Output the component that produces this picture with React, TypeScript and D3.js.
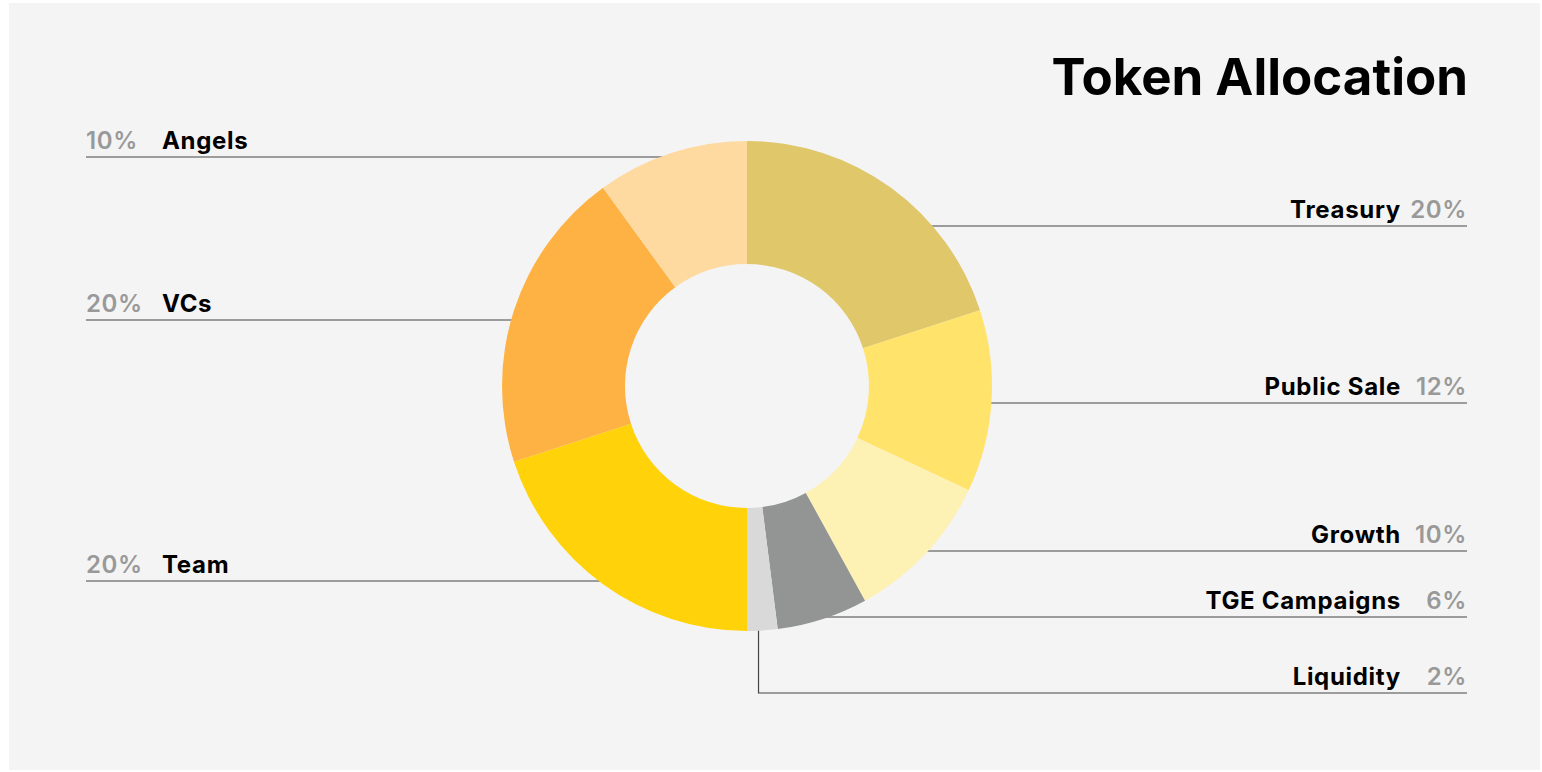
import React from "react";
import * as d3 from "d3";

const categories = ["Treasury", "Public Sale", "Growth", "TGE Campaigns", "Liquidity", "Team", "VCs", "Angels"];
const values = [20, 12, 10, 6, 2, 20, 20, 10];
const colors = ["#dfc76a", "#ffe36b", "#fef1b4", "#929594", "#d9d9d9", "#ffd20a", "#fdb243", "#fed9a0"];

// label row y (layout only)
const rowY: Record<string, number> = {
  Treasury: 226,
  "Public Sale": 403,
  Growth: 551,
  "TGE Campaigns": 617,
  Liquidity: 693,
  Team: 581,
  VCs: 320,
  Angels: 157,
};

const W = 1542;
const H = 772;
const cx = 747;
const cy = 386;
const R = 245;
const r = 122;
const leftX = 86;
const rightX = 1467;
const FONT = "Inter, 'Noto Sans', sans-serif";

export default function App() {
  const pie = d3.pie<number>().value((d) => d).sort(null);
  const arcs = pie(values);
  const arcGen = d3.arc<d3.PieArcDatum<number>>().innerRadius(r).outerRadius(R);

  const leaders = arcs.map((a, i) => {
    const name = categories[i];
    const y = rowY[name];
    const mid = (a.startAngle + a.endAngle) / 2;
    const isRight = mid < Math.PI || name === "Liquidity";
    const dy = y - cy;
    let path: string;
    if (Math.abs(dy) < R) {
      const dx = Math.sqrt(R * R - dy * dy) - 12;
      if (isRight) path = `M${cx + dx},${y}H${rightX}`;
      else path = `M${leftX},${y}H${cx - dx}`;
    } else {
      const [mx] = arcGen.centroid(a);
      const my = cy - R * Math.cos(mid);
      path = `M${cx + mx},${my - 6}V${y}H${rightX}`;
    }
    return { name, y, isRight, path, v: values[i] };
  });

  return (
    <svg width={W} height={H} style={{ display: "block", position: "absolute", left: 0, top: 0 }}>
      <rect x={9} y={3} width={1531} height={767} fill="#f4f4f4" />
      {leaders.map((l) => (
        <path key={l.name + "l"} d={l.path} fill="none" stroke="#444" strokeWidth={1.2} />
      ))}
      <g transform={`translate(${cx},${cy})`}>
        {arcs.map((a, i) => (
          <path key={categories[i]} d={arcGen(a) || ""} fill={colors[i]} />
        ))}
      </g>
      {leaders.map((l) =>
        l.isRight ? (
          <g key={l.name}>
            <text x={1401} y={l.y - 8} textAnchor="end" fontFamily={FONT} fontWeight={700} fontSize={24} letterSpacing={0.7} fill="#000">
              {l.name}
            </text>
            <text x={rightX} y={l.y - 8} textAnchor="end" fontFamily={FONT} fontWeight={600} fontSize={24} letterSpacing={0.6} fill="#999">
              {l.v}%
            </text>
          </g>
        ) : (
          <g key={l.name}>
            <text x={leftX} y={l.y - 8} fontFamily={FONT} fontWeight={600} fontSize={24} letterSpacing={0.6} fill="#999">
              {l.v}%
            </text>
            <text x={162} y={l.y - 8} fontFamily={FONT} fontWeight={700} fontSize={24} letterSpacing={0.7} fill="#000">
              {l.name}
            </text>
          </g>
        )
      )}
      <text x={1468} y={95} textAnchor="end" fontFamily={FONT} fontWeight={700} fontSize={51} fill="#000">
        Token Allocation
      </text>
    </svg>
  );
}
